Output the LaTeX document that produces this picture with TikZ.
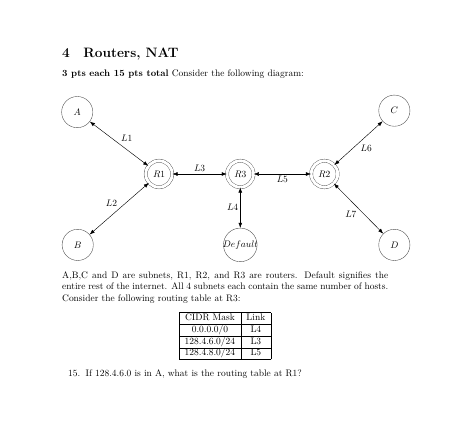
\documentclass[tikz,border=0pt]{standalone}
\usetikzlibrary{arrows.meta, positioning}
\tikzset{
  subnet/.style ={circle, draw=black!70, line width=0.4pt, minimum size=33pt, inner sep=0pt},
  router/.style ={circle, draw=black!70, line width=0.4pt, double, double distance=3pt,
                  minimum size=28pt, inner sep=0pt},
  larr/.style   ={{Latex[length=1.9mm,width=1.4mm]}-{Latex[length=1.9mm,width=1.4mm]}, line width=0.45pt},
  llbl/.style   ={inner sep=2pt},
  ptext/.style  ={inner sep=0pt, anchor=base west},
}
\begin{document}
\begin{tikzpicture}[x=1.058pt, y=1.058pt, on grid]
  \useasboundingbox (0,0) rectangle (474,-445);
  % heading and intro line
  \node[ptext, font=\Large\bfseries] (head) at (62,-57) {4\hspace{1em}Routers, NAT};
  \node[ptext] (intro) at (62,-76) {\textbf{3 pts each 15 pts total} Consider the following diagram:};
  % routers
  \node[router] (R1) at (159,-174) {$R1$};
  \node[router, right=86pt of R1] (R3) {$R3$};
  \node[router, right=89pt of R3] (R2) {$R2$};
  % subnets
  \node[subnet, above left=65.5pt and 86.5pt of R1] (A) {$A$};
  \node[subnet, below left=75pt and 86pt of R1] (B) {$B$};
  \node[subnet, above right=67pt and 74pt of R2] (C) {$C$};
  \node[subnet, below right=75pt and 74pt of R2] (D) {$D$};
  \node[subnet, inner sep=-1pt, below=75pt of R3] (Def) {$Default$};
  % links
  \draw[larr] (A) -- node[llbl, above right] {$L1$} (R1);
  \draw[larr] (B) -- node[llbl, above left] {$L2$} (R1);
  \draw[larr] (R1) -- node[llbl, above] {$L3$} (R3);
  \draw[larr] (R3) -- node[llbl, left] {$L4$} (Def);
  \draw[larr] (R3) -- node[llbl, below] {$L5$} (R2);
  \draw[larr] (C) -- node[llbl, below right] {$L6$} (R2);
  \draw[larr] (D) -- node[llbl, below left] {$L7$} (R2);
  % text below the diagram
  \node[inner sep=0pt, anchor=north west, text width=345pt, align=justify] (para) at (62,-271.4)
    {A,B,C and D are subnets, R1, R2, and R3 are routers. Default signifies the entire rest of the internet. All 4 subnets each contain the same number of hosts. Consider the following routing table at R3:};
  \node[inner sep=0pt] (cidr) at (225,-336) {\begin{tabular}{|c|c|}
      \hline
      CIDR Mask & Link\\ \hline
      0.0.0.0/0 & L4\\ \hline
      128.4.6.0/24 & L3\\ \hline
      128.4.8.0/24 & L5\\ \hline
    \end{tabular}};
  \node[inner sep=0pt, anchor=base east] (qnum) at (80.5,-376.5) {15.};
  \node[ptext] (qtext) at (85.5,-376.5) {If 128.4.6.0 is in A, what is the routing table at R1?};
\end{tikzpicture}
\end{document}
